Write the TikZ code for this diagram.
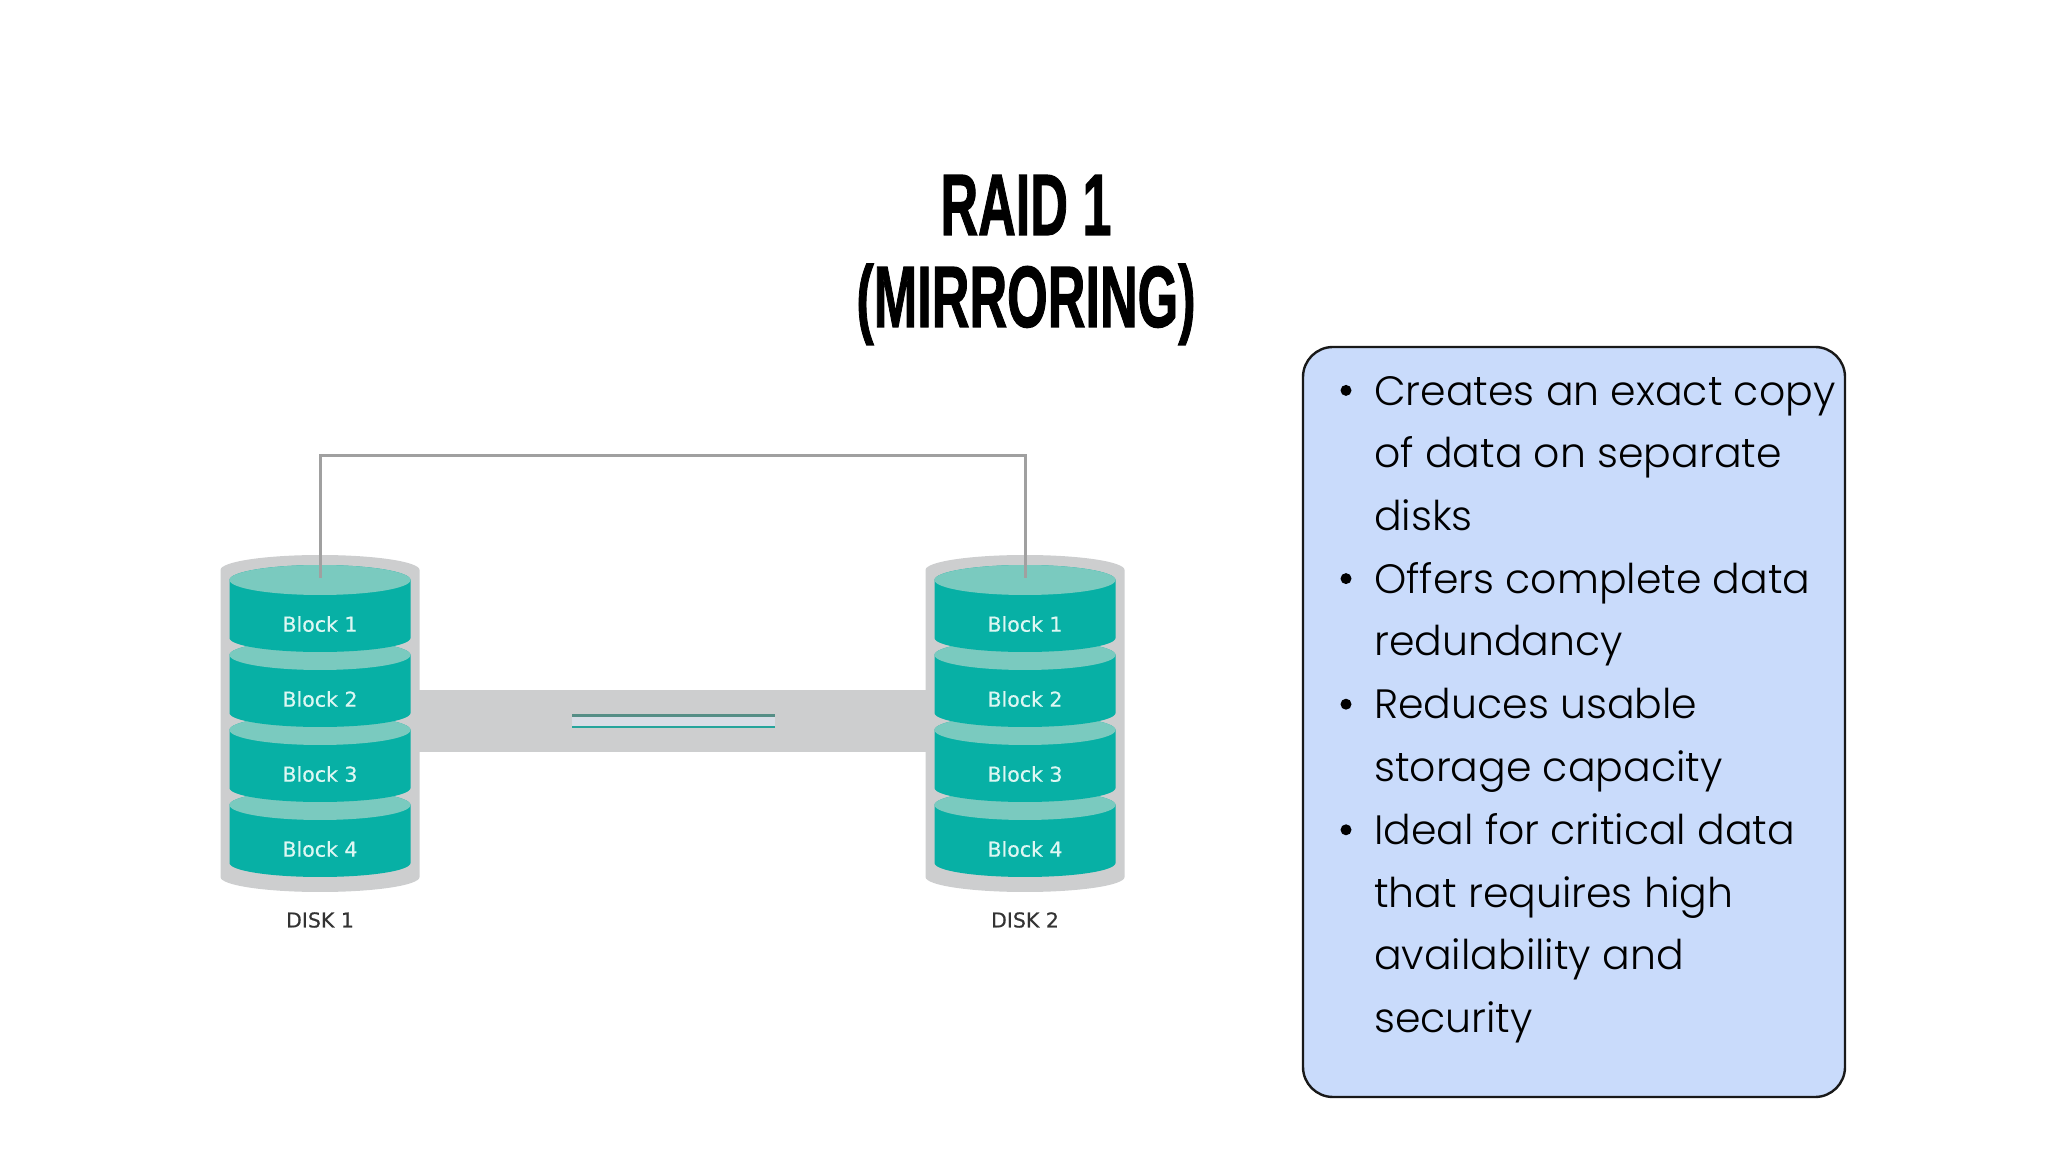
\documentclass[tikz,border=0pt]{standalone}
\usepackage{fontspec}
\setmainfont{Poppins Light}
\newfontfamily\titlefont[FakeBold=1.5]{Liberation Sans Bold}
\newfontfamily\labelfont[FakeBold=0.5]{DejaVu Sans}
\usetikzlibrary{positioning}
\definecolor{shellgray}{HTML}{CDCECF}
\definecolor{stripgray}{HTML}{D8DDE6}
\definecolor{blockteal}{HTML}{07B0A5}
\definecolor{capteal}{HTML}{7ACABF}
\definecolor{wiregray}{HTML}{A0A0A0}
\definecolor{infoblue}{HTML}{C9DBFB}
\definecolor{blockwhite}{HTML}{DDF7F3}
\newcommand{\itemstrut}{\rule[-18pt]{0pt}{62.6pt}}

\begin{document}
\begin{tikzpicture}[x=1pt,y=1pt]
  \tikzstyle{bar}=[rectangle, fill=shellgray, minimum width=610pt, minimum height=62pt, inner sep=0pt]
  \tikzstyle{wire}=[wiregray, line width=3pt]
  \tikzstyle{blocktext}=[text=blockwhite, inner sep=0pt, font=\labelfont\fontsize{20.5}{24}\selectfont]
  \tikzstyle{disktext}=[text=black!80, inner sep=0pt, font=\labelfont\fontsize{20.5}{24}\selectfont]
  \tikzstyle{title}=[align=center, inner sep=0pt, xscale=0.6, font=\titlefont\fontsize{87}{92}\selectfont]
  \tikzstyle{info}=[rectangle, draw=black!90, fill=infoblue, line width=2.4pt, rounded corners=30pt, minimum width=542pt, minimum height=750pt]
  \tikzstyle{item}=[anchor=north west, align=left, inner sep=0pt, font=\fontsize{41}{62.6}\selectfont]
  \tikzstyle{dot}=[circle, fill=black, inner sep=0pt, minimum size=11pt]
  \useasboundingbox (0,0) rectangle (2048,1152);
  % title
  \node (head) [title] at (1026,892) {RAID 1\\(MIRRORING)};
  % link between the disks
  \node (link) [bar] at (672.5,431) {};
  \fill [stripgray] (572,426) rectangle (775,436);
  \draw [capteal!70!black, line width=2.8pt] (572,436.5) -- (775,436.5);
  \draw [blockteal!75!gray, line width=2.8pt] (572,425) -- (775,425);
  % disks
  \foreach \d/\x in {1/320,2/1025} {
    \fill [shellgray] (\x-99.5,582) arc [start angle=180, end angle=0, x radius=99.5, y radius=15]
      -- (\x+99.5,275) arc [start angle=360, end angle=180, x radius=99.5, y radius=15] -- cycle;
    \foreach \i/\y in {4/347,3/422,2/497,1/572} {
      \fill [blockteal] (\x-90.5,\y) -- (\x-90.5,\y-58)
        arc [start angle=180, end angle=360, x radius=90.5, y radius=14]
        -- (\x+90.5,\y) arc [start angle=0, end angle=180, x radius=90.5, y radius=15] -- cycle;
      \fill [capteal] (\x,\y) ellipse [x radius=90.5, y radius=15];
      \node (block\d\i) [blocktext] at (\x,\y-44) {Block \i};
    }
    \node (disk\d) [disktext] at (\x,232) {DISK \d};
    \coordinate (top\d) at (\x,574);
  }
  % wire on top
  \coordinate (mid) at (672.5,696);
  \draw [wire] (top1) |- (mid) -| (top2);
  % right box
  \node (box) [info] at (1574,430) {};
  \node (item1) [item] at (1374,791.6) {\itemstrut Creates an exact copy\\of data on separate\\disks\itemstrut};
  \node (item2) [item, below=0pt of item1.south west, anchor=north west] {\itemstrut Offers complete data\\redundancy\itemstrut};
  \node (item3) [item, below=0pt of item2.south west, anchor=north west] {\itemstrut Reduces usable\\storage capacity\itemstrut};
  \node (item4) [item, below=0pt of item3.south west, anchor=north west] {\itemstrut Ideal for critical data\\that requires high\\availability and\\security\itemstrut};
  \foreach \i in {1,...,4}
    \node (dot\i) [dot, xshift=-28pt, yshift=-30pt] at (item\i.north west) {};
\end{tikzpicture}
\end{document}
